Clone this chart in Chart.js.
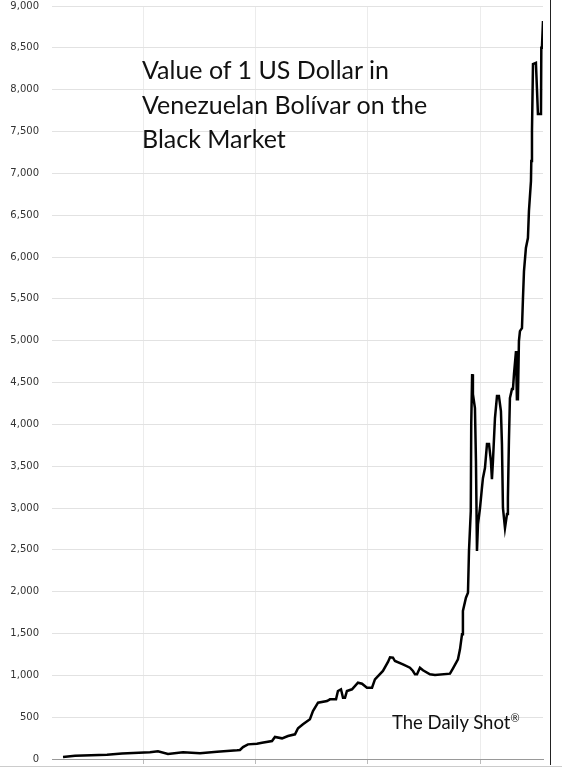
<!DOCTYPE html>
<html>
<head>
<meta charset="utf-8">
<script src="https://cdn.jsdelivr.net/npm/chart.js@4.4.0/dist/chart.umd.min.js"></script>
<style>
  html, body { margin: 0; padding: 0; background: #fff; }
  #wrap { position: relative; width: 562px; height: 769px; overflow: hidden; }
  #box { position: absolute; left: 0; top: -13px; width: 562px; height: 791px; }
  .title { position: absolute; left: 142px; top: 52px; font-family: Lato, "Open Sans", sans-serif;
           font-size: 25px; line-height: 34.5px; color: #111; }
  .brand { position: absolute; left: 392px; top: 711px; font-family: Lato, "Open Sans", sans-serif;
           font-size: 18.5px; color: #111; }
  .brand sup { font-size: 11px; }
  .frame-r { position: absolute; left: 550px; top: 0; width: 1px; height: 765px; background: #222; }
  .frame-b { position: absolute; left: 0; top: 766px; width: 562px; height: 1px; background: #ccc; }
</style>
</head>
<body>
<div id="wrap">
  <div id="box"><canvas id="bsChart"></canvas></div>
  <div class="title">Value of 1 US Dollar in<br>Venezuelan Bolívar on the<br>Black Market</div>
  <div class="brand">The Daily Shot<sup>®</sup></div>
  <div class="frame-r"></div>
  <div class="frame-b"></div>
</div>
<script>
// dates as decimal years, values in bolívares per US dollar
const years = [
  2013.289, 2013.396, 2013.680, 2013.813, 2014.062, 2014.133, 2014.222, 2014.356, 2014.507, 2014.658,
  2014.836, 2014.862, 2014.889, 2014.933, 2015.013, 2015.058, 2015.147, 2015.173, 2015.236, 2015.289,
  2015.351, 2015.378, 2015.422, 2015.484, 2015.511, 2015.556, 2015.636, 2015.662, 2015.716, 2015.733,
  2015.760, 2015.778, 2015.796, 2015.813, 2015.858, 2015.911, 2015.947, 2015.991, 2016.036, 2016.062,
  2016.133, 2016.178, 2016.196, 2016.222, 2016.240, 2016.311, 2016.373, 2016.400, 2016.418, 2016.436,
  2016.462, 2016.489, 2016.551, 2016.596, 2016.729, 2016.756, 2016.800, 2016.818, 2016.836, 2016.844,
  2016.871, 2016.889, 2016.898, 2016.914, 2016.918, 2016.926, 2016.933, 2016.951, 2016.960, 2016.969,
  2016.978, 2016.996, 2017.013, 2017.022, 2017.040, 2017.058, 2017.076, 2017.093, 2017.102, 2017.111,
  2017.129, 2017.147, 2017.164, 2017.182, 2017.191, 2017.200, 2017.218, 2017.236, 2017.244, 2017.253,
  2017.262, 2017.280, 2017.289, 2017.298, 2017.316, 2017.324, 2017.333, 2017.342, 2017.351, 2017.369,
  2017.378, 2017.387, 2017.404, 2017.422, 2017.431, 2017.449, 2017.452, 2017.458, 2017.467, 2017.493,
  2017.502, 2017.511, 2017.538, 2017.541, 2017.547, 2017.556
];
const rates = [
  25, 40, 50, 65, 80, 92, 60, 80, 68, 88,
  104, 108, 143, 175, 183, 195, 215, 263, 247, 275,
  295, 367, 415, 475, 574, 673, 693, 713, 713, 813,
  833, 733, 733, 813, 833, 912, 900, 852, 852, 952,
  1052, 1160, 1215, 1211, 1171, 1131, 1091, 1052, 1012, 1012,
  1091, 1060, 1012, 1004, 1020, 1084, 1191, 1311, 1490, 1769,
  1928, 1988, 2486, 2964, 4003, 4600, 4361, 4195, 3560, 2486,
  2808, 3000, 3238, 3357, 3477, 3764, 3764, 3560, 3345, 3560,
  4075, 4338, 4338, 4159, 3764, 3000, 2760, 2928, 3119, 3800,
  4314, 4421, 4421, 4600, 4876, 4300, 4300, 4995, 5114, 5150,
  5509, 5832, 6107, 6227, 6550, 6907, 7148, 7506, 8306, 8320,
  8020, 7710, 7710, 8500, 8520, 8820
];
const yearTicks = [2014, 2015, 2016, 2017];

const ctx = document.getElementById('bsChart');

new Chart(ctx, {
  type: 'line',
  data: {
    datasets: [{
      label: 'VEF per USD',
      data: years.map((x, i) => ({ x: x, y: rates[i] })),
      borderColor: '#000000',
      borderWidth: 2.5,
      pointRadius: 0,
      tension: 0,
      fill: false
    }]
  },
  options: {
    responsive: true,
    maintainAspectRatio: false,
    animation: false,
    layout: { padding: { left: 0, right: 19, top: 0, bottom: 6 } },
    plugins: {
      legend: { display: false },
      title: { display: false },
      tooltip: { enabled: false }
    },
    scales: {
      x: {
        type: 'linear',
        min: 2013.191,
        max: 2017.556,
        afterBuildTicks: (scale) => { scale.ticks = yearTicks.map(v => ({ value: v })); },
        ticks: { display: false },
        grid: { color: '#ececec', tickLength: 5, drawTicks: true, tickColor: '#bbbbbb' },
        border: { display: true, color: '#999999', width: 1 }
      },
      y: {
        min: 0,
        max: 9000,
        afterFit: (scale) => { scale.width = 52; },
        ticks: {
          stepSize: 500,
          padding: 13,
          color: '#333333',
          font: { family: 'DejaVu Sans', size: 10 }
        },
        grid: { color: '#e2e2e2', drawTicks: false },
        border: { display: false }
      }
    }
  }
});
</script>
</body>
</html>
